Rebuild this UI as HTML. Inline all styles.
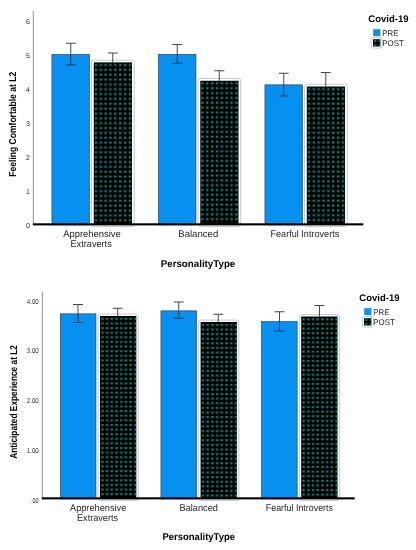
<!DOCTYPE html>
<html><head><meta charset="utf-8"><title>Charts</title>
<style>
html,body{margin:0;padding:0;background:#fff;}
svg{display:block;font-family:"Liberation Sans",Arial,sans-serif;text-rendering:geometricPrecision;}
</style></head><body>
<svg width="416" height="550" viewBox="0 0 416 550">
<defs>
<pattern id="dots1" x="0" y="0" width="4.85" height="4.85" patternUnits="userSpaceOnUse">
<rect x="1.0" y="1.6" width="2.3" height="2.0" fill="#0a8f8a"/>
</pattern>
<pattern id="dots2c" x="0" y="0" width="4.7" height="4.613" patternUnits="userSpaceOnUse">
<rect x="1.3" y="1.9" width="2.2" height="2.0" fill="#0a8f8a"/>
</pattern>
<pattern id="dots2" x="0" y="0" width="4.7" height="4.2" patternUnits="userSpaceOnUse">
<rect x="1.2" y="1.5" width="2.0" height="1.9" fill="#0a8f8a"/>
</pattern>
</defs>
<rect width="416" height="550" fill="#fff"/>
<rect x="32.80" y="10.70" width="1" height="213.80" fill="#929292"/>
<rect x="51.95" y="54.60" width="37.50" height="170.25" fill="#0690EF" stroke="#2c4660" stroke-width="0.7"/>
<rect x="91.55" y="60.15" width="42.70" height="166.40" rx="2.4" ry="2.4" fill="#fff" stroke="#b0b0b0" stroke-width="0.7"/>
<g transform="translate(93.80,62.40)"><rect x="0" y="0" width="38.20" height="162.10" fill="#000"/><rect x="0" y="0" width="38.20" height="160.90" fill="url(#dots1)"/></g>
<rect x="158.45" y="54.35" width="37.50" height="170.50" fill="#0690EF" stroke="#2c4660" stroke-width="0.7"/>
<rect x="198.05" y="78.50" width="42.70" height="148.05" rx="2.4" ry="2.4" fill="#fff" stroke="#b0b0b0" stroke-width="0.7"/>
<g transform="translate(200.30,80.75)"><rect x="0" y="0" width="38.20" height="143.75" fill="#000"/><rect x="0" y="0" width="38.20" height="142.55" fill="url(#dots1)"/></g>
<rect x="264.95" y="84.85" width="37.50" height="140.00" fill="#0690EF" stroke="#2c4660" stroke-width="0.7"/>
<rect x="304.55" y="84.25" width="42.70" height="142.30" rx="2.4" ry="2.4" fill="#fff" stroke="#b0b0b0" stroke-width="0.7"/>
<g transform="translate(306.80,86.50)"><rect x="0" y="0" width="38.20" height="138.00" fill="#000"/><rect x="0" y="0" width="38.20" height="136.80" fill="url(#dots1)"/></g>
<rect x="32.80" y="223.30" width="330.50" height="2.1" fill="#000"/>
<path d="M65.75 43.25H75.75M65.75 65.00H75.75M70.75 43.25V65.00" stroke="#333" stroke-width="0.9" fill="none"/>
<path d="M107.75 53.00H117.75M112.75 53.00V62.70" stroke="#333" stroke-width="0.9" fill="none"/>
<path d="M172.25 44.50H182.25M172.25 63.25H182.25M177.25 44.50V63.25" stroke="#333" stroke-width="0.9" fill="none"/>
<path d="M214.25 70.75H224.25M219.25 70.75V81.05" stroke="#333" stroke-width="0.9" fill="none"/>
<path d="M278.75 73.25H288.75M278.75 96.00H288.75M283.75 73.25V96.00" stroke="#333" stroke-width="0.9" fill="none"/>
<path d="M320.75 72.50H330.75M325.75 72.50V86.80" stroke="#333" stroke-width="0.9" fill="none"/>
<text x="29.9" y="227.70" font-size="7" text-anchor="end" fill="#262626">0</text>
<text x="29.9" y="193.70" font-size="7" text-anchor="end" fill="#262626">1</text>
<text x="29.9" y="159.70" font-size="7" text-anchor="end" fill="#262626">2</text>
<text x="29.9" y="125.70" font-size="7" text-anchor="end" fill="#262626">3</text>
<text x="29.9" y="91.70" font-size="7" text-anchor="end" fill="#262626">4</text>
<text x="29.9" y="57.70" font-size="7" text-anchor="end" fill="#262626">5</text>
<text x="29.9" y="23.70" font-size="7" text-anchor="end" fill="#262626">6</text>
<text x="63.25" y="236.75" font-size="9.7" textLength="57.50" lengthAdjust="spacingAndGlyphs" fill="#262626">Apprehensive</text>
<text x="70.50" y="246.50" font-size="9.7" textLength="41.25" lengthAdjust="spacingAndGlyphs" fill="#262626">Extraverts</text>
<text x="178.25" y="236.75" font-size="9.7" textLength="40.00" lengthAdjust="spacingAndGlyphs" fill="#262626">Balanced</text>
<text x="270.50" y="236.75" font-size="9.7" textLength="68.75" lengthAdjust="spacingAndGlyphs" fill="#262626">Fearful Introverts</text>
<text x="160.75" y="266.75" font-size="10" textLength="74.50" lengthAdjust="spacingAndGlyphs" fill="#000" font-weight="bold">PersonalityType</text>
<text transform="translate(16.20,176.70) rotate(-90)" x="0" y="0" font-size="10" font-weight="bold" textLength="104.85" lengthAdjust="spacingAndGlyphs" fill="#000">Feeling Comfortable at L2</text>
<g transform="translate(0,21.60) scale(1,0.93) translate(0,-21.60)"><text x="368.30" y="21.60" font-size="10.3" textLength="40.20" lengthAdjust="spacingAndGlyphs" fill="#000" font-weight="bold">Covid-19</text></g>
<rect x="373.20" y="29.20" width="7.2" height="6.9" fill="#0690EF"/>
<text x="382.30" y="36.00" font-size="8.3" textLength="16.10" lengthAdjust="spacingAndGlyphs" fill="#222">PRE</text>
<rect x="371.25" y="37.35" width="11.10" height="10.80" rx="2.4" ry="2.4" fill="#fff" stroke="#b0b0b0" stroke-width="0.7"/>
<g transform="translate(373.00,38.50)"><rect y="0.7" width="7.4" height="7.3" fill="#000"/><rect y="0.7" width="7.4" height="7.3" fill="url(#dots2)"/></g>
<text x="382.30" y="46.00" font-size="8.3" textLength="21.50" lengthAdjust="spacingAndGlyphs" fill="#222">POST</text>
<rect x="41.80" y="291.30" width="1" height="207.20" fill="#929292"/>
<rect x="60.35" y="313.85" width="35.60" height="185.00" fill="#0690EF" stroke="#2c4660" stroke-width="0.7"/>
<rect x="98.05" y="314.05" width="40.20" height="186.50" rx="2.4" ry="2.4" fill="#fff" stroke="#b0b0b0" stroke-width="0.7"/>
<g transform="translate(100.00,316.00)"><rect x="0" y="0" width="36.30" height="182.50" fill="#000"/><rect x="0" y="0" width="36.30" height="181.30" fill="url(#dots2c)"/></g>
<rect x="160.95" y="310.85" width="35.60" height="188.00" fill="#0690EF" stroke="#2c4660" stroke-width="0.7"/>
<rect x="198.65" y="320.05" width="40.20" height="180.50" rx="2.4" ry="2.4" fill="#fff" stroke="#b0b0b0" stroke-width="0.7"/>
<g transform="translate(200.60,322.00)"><rect x="0" y="0" width="36.30" height="176.50" fill="#000"/><rect x="0" y="0" width="36.30" height="175.30" fill="url(#dots2c)"/></g>
<rect x="261.55" y="321.60" width="35.60" height="177.25" fill="#0690EF" stroke="#2c4660" stroke-width="0.7"/>
<rect x="299.25" y="314.55" width="40.20" height="186.00" rx="2.4" ry="2.4" fill="#fff" stroke="#b0b0b0" stroke-width="0.7"/>
<g transform="translate(301.20,316.50)"><rect x="0" y="0" width="36.30" height="182.00" fill="#000"/><rect x="0" y="0" width="36.30" height="180.80" fill="url(#dots2c)"/></g>
<rect x="41.80" y="497.30" width="312.90" height="2.1" fill="#000"/>
<path d="M73.00 304.50H83.00M73.00 322.50H83.00M78.00 304.50V322.50" stroke="#333" stroke-width="0.9" fill="none"/>
<path d="M112.75 308.25H122.75M117.75 308.25V316.30" stroke="#333" stroke-width="0.9" fill="none"/>
<path d="M173.75 302.00H183.75M173.75 318.25H183.75M178.75 302.00V318.25" stroke="#333" stroke-width="0.9" fill="none"/>
<path d="M213.25 314.25H223.25M218.25 314.25V322.30" stroke="#333" stroke-width="0.9" fill="none"/>
<path d="M274.50 311.75H284.50M274.50 331.00H284.50M279.50 311.75V331.00" stroke="#333" stroke-width="0.9" fill="none"/>
<path d="M314.50 305.50H324.50M319.50 305.50V316.80" stroke="#333" stroke-width="0.9" fill="none"/>
<text x="26.80" y="304.00" font-size="7" textLength="11.90" lengthAdjust="spacingAndGlyphs" fill="#262626">4.00</text>
<text x="26.80" y="353.00" font-size="7" textLength="11.90" lengthAdjust="spacingAndGlyphs" fill="#262626">3.00</text>
<text x="26.80" y="403.00" font-size="7" textLength="11.90" lengthAdjust="spacingAndGlyphs" fill="#262626">2.00</text>
<text x="26.80" y="452.50" font-size="7" textLength="11.90" lengthAdjust="spacingAndGlyphs" fill="#262626">1.00</text>
<text x="30.90" y="502.50" font-size="7" textLength="7.80" lengthAdjust="spacingAndGlyphs" fill="#262626">.00</text>
<text x="70.00" y="510.75" font-size="9.7" textLength="56.25" lengthAdjust="spacingAndGlyphs" fill="#262626">Apprehensive</text>
<text x="77.00" y="520.50" font-size="9.7" textLength="41.00" lengthAdjust="spacingAndGlyphs" fill="#262626">Extraverts</text>
<text x="179.50" y="510.50" font-size="9.7" textLength="38.50" lengthAdjust="spacingAndGlyphs" fill="#262626">Balanced</text>
<text x="265.75" y="510.50" font-size="9.7" textLength="67.25" lengthAdjust="spacingAndGlyphs" fill="#262626">Fearful Introverts</text>
<text x="162.50" y="540.00" font-size="10" textLength="72.50" lengthAdjust="spacingAndGlyphs" fill="#000" font-weight="bold">PersonalityType</text>
<text transform="translate(17.20,458.80) rotate(-90)" x="0" y="0" font-size="10" font-weight="bold" textLength="113.80" lengthAdjust="spacingAndGlyphs" fill="#000">Anticipated Experience at L2</text>
<g transform="translate(0,301.40) scale(1,0.93) translate(0,-301.40)"><text x="359.30" y="301.40" font-size="10.3" textLength="40.20" lengthAdjust="spacingAndGlyphs" fill="#000" font-weight="bold">Covid-19</text></g>
<rect x="364.20" y="308.20" width="7.2" height="6.9" fill="#0690EF"/>
<text x="373.30" y="315.00" font-size="8.3" textLength="16.10" lengthAdjust="spacingAndGlyphs" fill="#222">PRE</text>
<rect x="362.25" y="316.35" width="11.10" height="10.80" rx="2.4" ry="2.4" fill="#fff" stroke="#b0b0b0" stroke-width="0.7"/>
<g transform="translate(364.00,317.50)"><rect y="0.7" width="7.4" height="7.3" fill="#000"/><rect y="0.7" width="7.4" height="7.3" fill="url(#dots2)"/></g>
<text x="373.30" y="325.00" font-size="8.3" textLength="21.50" lengthAdjust="spacingAndGlyphs" fill="#222">POST</text>
</svg></body></html>
